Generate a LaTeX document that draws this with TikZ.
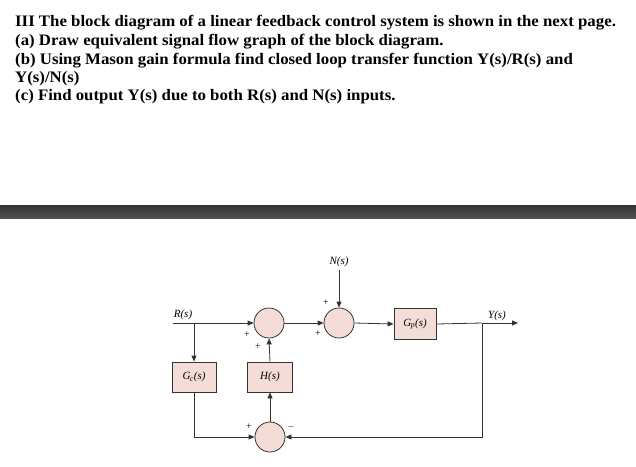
\documentclass[tikz,border=0pt]{standalone}
\usepackage{fontspec}
\setmainfont{Liberation Serif}
\newfontfamily\headfont[FakeStretch=1.05]{Liberation Serif}
\usetikzlibrary{arrows.meta}
\definecolor{blockfill}{HTML}{F3DDD6}
\definecolor{linecol}{HTML}{333333}
\begin{document}
\begin{tikzpicture}[x=1pt,y=-1pt,
  txt/.style={anchor=base west,inner sep=0pt,font=\headfont\bfseries\fontsize{16}{18}\selectfont},
  lbl/.style={inner sep=0pt,font=\itshape\fontsize{11}{12}\selectfont},
  sgn/.style={inner sep=0pt,font=\fontsize{10}{10}\selectfont},
  sumj/.style={circle,draw=linecol,fill=blockfill,minimum size=30pt,inner sep=0pt,line width=0.8pt},
  blk/.style={draw=linecol,fill=blockfill,line width=0.8pt,inner sep=0pt,font=\itshape\fontsize{11}{12}\selectfont},
  sig/.style={draw=linecol,line width=0.8pt,-{Triangle[length=6pt,width=5pt]}},
  wire/.style={draw=linecol,line width=0.8pt}]
\useasboundingbox (0,0) rectangle (636,466);
\fill[white] (0,0) rectangle (636,466);
% text
\node[txt] (t1) at (15,26.7) {III The block diagram of a linear feedback control system is shown in the next page.};
\node[txt] (t2) at (15,45.5) {(a) Draw equivalent signal flow graph of the block diagram.};
\node[txt] (t3) at (15,64) {(b) Using Mason gain formula find closed loop transfer function Y(s)/R(s) and};
\node[txt] (t4) at (15,82) {Y(s)/N(s)};
\node[txt] (t5) at (15,100.5) {(c) Find output Y(s) due to both R(s) and N(s) inputs.};
% bar
\shade[top color=black!80,bottom color=black!68] (0,205) rectangle (636,218);
% diagram
\coordinate (rin) at (173,323);
\coordinate (rbr) at (194,323);
\node[sumj] (s1) at (269,323) {};
\node[sumj] (s2) at (339,323) {};
\node[sumj] (s3) at (270,437) {};
\node[blk,minimum width=42pt,minimum height=31pt] (gp) at (415,324) {G\textsubscript{\kern-0.5pt p}(s)};
\node[blk,minimum width=44pt,minimum height=30pt] (gc) at (194,377) {G\textsubscript{\kern-0.5pt c}(s)};
\node[blk,minimum width=45pt,minimum height=30pt] (h) at (270,377) {H(s)};
\coordinate (nin) at (339,270);
\coordinate (ybr) at (482,323);
\coordinate (yout) at (518,323);
\node[lbl] (rl) at (183,315) {R(s)};
\node[lbl] (nl) at (339,262) {N(s)};
\node[lbl] (yl) at (497,316) {Y(s)};
\draw[wire] (rin) -- (rbr);
\draw[sig] (rbr) -- (s1.west);
\draw[sig] (s1.east) -- (s2.west);
\draw[sig] (s2.east) -- (gp.west);
\draw[wire] (gp.east) -- (ybr);
\draw[sig] (ybr) -- (yout);
\draw[sig] (nin) -- (s2.north);
\draw[sig] (rbr) -- (gc.north);
\draw[sig] (gc.south) |- (s3.west);
\draw[sig] (ybr) |- (s3.east);
\draw[sig] (s3.north) -- (h.south);
\draw[sig] (h.north) -- (s1.south);
% signs
\node[sgn] at (247,335) {+};
\node[sgn] at (258,347) {+};
\node[sgn] at (326,303) {+};
\node[sgn] at (318,334) {+};
\node[sgn] at (249,427) {+};
\node[sgn] at (291,427) {$-$};
\end{tikzpicture}
\end{document}
